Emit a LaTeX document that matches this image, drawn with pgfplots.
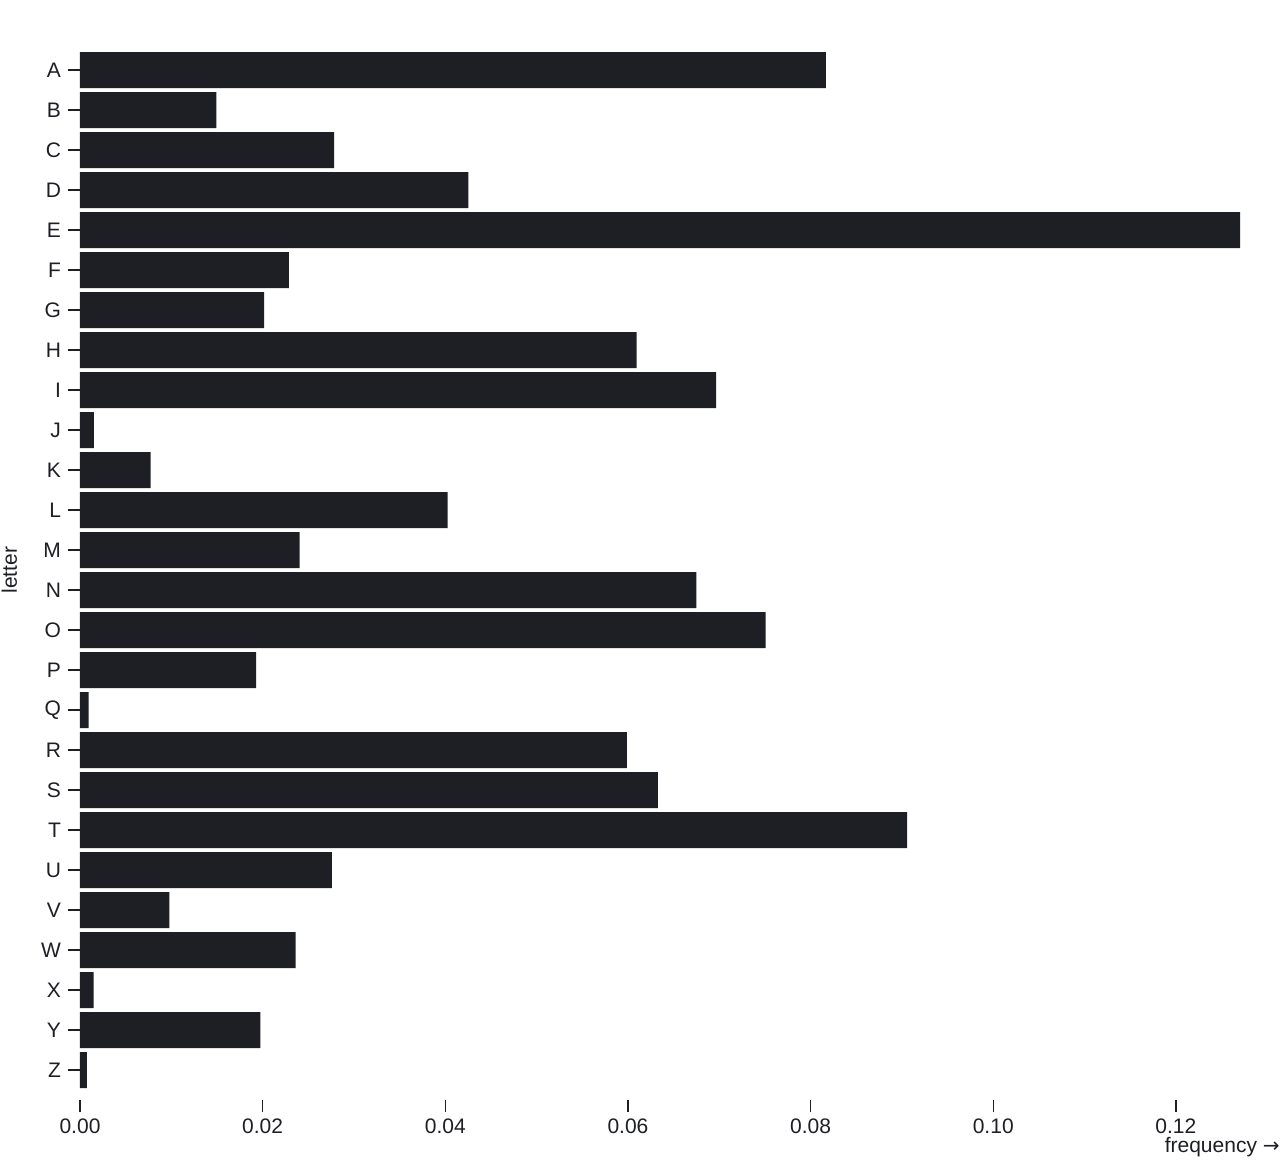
\documentclass[border=0pt]{standalone}
\usepackage{fontspec}
\setmainfont{Liberation Sans}
\newfontfamily\arrowfont{DejaVu Sans}
\usepackage{pgfplots}
\pgfplotsset{compat=1.18}
\definecolor{ink}{RGB}{29,31,36}
\begin{document}
\begin{tikzpicture}[x=1pt,y=1pt]
\path[use as bounding box, fill=white] (0,0) rectangle (640,-580);
\begin{axis}[
  at={(40pt,-550pt)}, anchor=south west,
  scale only axis, width=580pt, height=525pt,
  xmin=0, xmax=0.12702,
  ymin=-0.5, ymax=25.75,
  y dir=reverse,
  axis line style={draw=none},
  clip=false,
  tick align=outside,
  major tick length=6pt,
  tick style={ink, line width=0.65pt},
  xtick pos=bottom, ytick pos=left,
  xtick={0,0.02,0.04,0.06,0.08,0.10,0.12},
  ytick={0,...,25},
  yticklabels={A,B,C,D,E,F,G,H,I,J,K,L,M,N,O,P,Q,R,S,T,U,V,W,X,Y,Z},
  /pgf/number format/assume math mode=true,
  xticklabel style={/pgf/number format/.cd, fixed, fixed zerofill, precision=2, /tikz/.cd, font=\fontsize{10.5}{12}\selectfont, text=ink},
  yticklabel style={font=\fontsize{10.5}{12}\selectfont, text=ink},
  scaled x ticks=false,
  xlabel={frequency {\arrowfont\fontsize{10}{12}\selectfont →}},
  xlabel style={at={(axis description cs:1,0)}, anchor=east, xshift=20pt, yshift=-23.5pt, font=\fontsize{10.5}{12}\selectfont, text=ink, inner sep=0pt},
  ylabel={letter},
  ylabel style={at={(axis cs:0,12.5)}, anchor=base, yshift=31.5pt, font=\fontsize{10.5}{12}\selectfont, text=ink, inner sep=0pt},
  xbar, bar width=18pt,
]
\addplot[fill=ink, draw=none] coordinates {
(0.08167,0) (0.01492,1) (0.02782,2) (0.04253,3) (0.12702,4) (0.02288,5)
(0.02015,6) (0.06094,7) (0.06966,8) (0.00153,9) (0.00772,10) (0.04025,11)
(0.02406,12) (0.06749,13) (0.07507,14) (0.01929,15) (0.00095,16) (0.05987,17)
(0.06327,18) (0.09056,19) (0.02758,20) (0.00978,21) (0.02360,22) (0.00150,23)
(0.01974,24) (0.00074,25)};
\end{axis}
\end{tikzpicture}
\end{document}
